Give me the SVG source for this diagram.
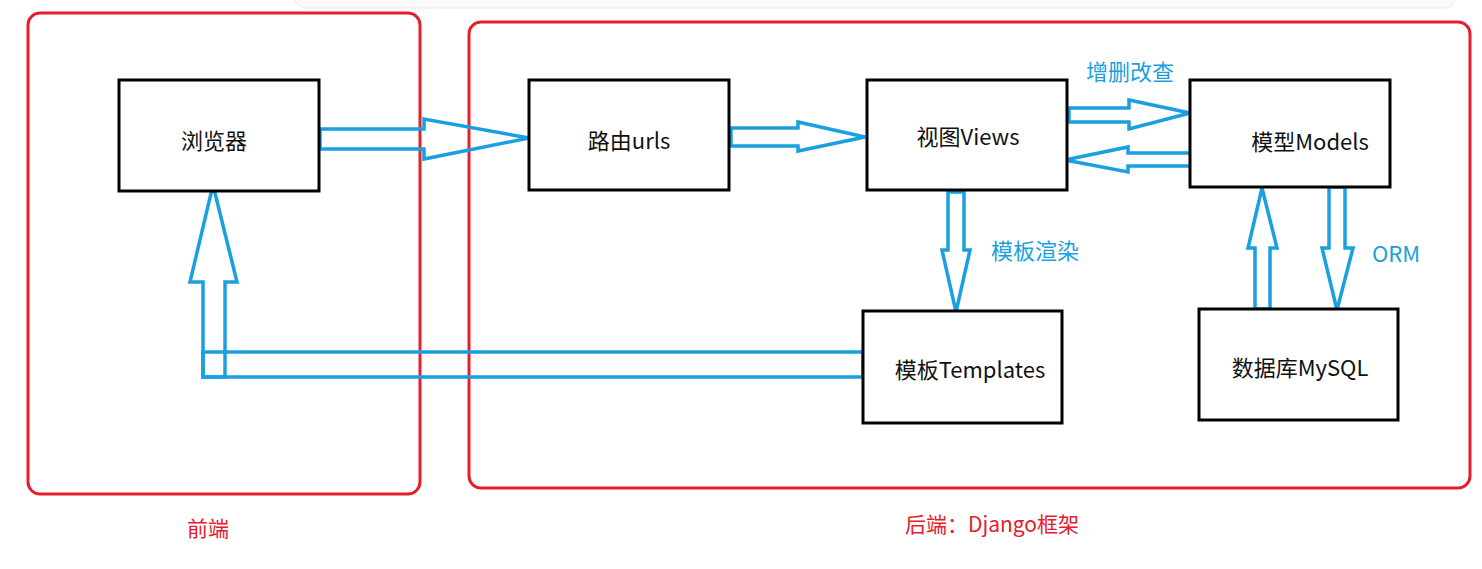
<svg xmlns="http://www.w3.org/2000/svg" width="1482" height="569" viewBox="0 0 1482 569">
<style>
.frame{fill:none;stroke:#e5202a;stroke-width:3}
.node{fill:#fff;stroke:#000;stroke-width:3}
.t{font-family:"Microsoft YaHei","Noto Sans CJK SC",sans-serif;font-size:22px;fill:#111;text-anchor:middle;dominant-baseline:central}
.b{fill:#1a9fe0}
.r{fill:#e5202a;font-size:21px}
.arr{fill:none;stroke:#1a9fe0;stroke-width:3.5;stroke-linejoin:miter}
</style>
<rect width="1482" height="569" fill="#fff"/>
<rect x="295" y="-12" width="1160" height="20" rx="10" fill="#fafafa" stroke="#ececec"/>
<rect class="frame" x="28" y="13" width="392" height="481" rx="12"/>
<rect class="frame" x="469" y="22" width="1001" height="466" rx="12"/>
<g id="connectors">
<polygon class="arr" points="320,129 424,129 424,119 529,138 424,159 424,149 320,149"/>
<polygon class="arr" points="731,128 798,128 798,122 865,137 798,151 798,146 731,146"/>
<polygon class="arr" points="1069,108 1129,108 1129,100 1190,113 1129,129 1129,122 1069,122"/>
<polygon class="arr" points="1193,153 1128,153 1128,147 1065,160 1128,172 1128,166 1193,166"/>
<polygon class="arr" points="1255,309 1255,248 1248,248 1262,188 1277,248 1270,248 1270,309"/>
<polygon class="arr" points="1329,187 1345,187 1345,248 1353,248 1337,310 1322,248 1329,248"/>
<polygon class="arr" points="948,192 964,192 964,250 970,250 956,312 942,250 948,250"/>
<polygon class="arr" points="203,377 203,282 190,282 213,185 237,282 225,282 225,377"/>
<rect class="arr" x="203" y="352" width="660" height="25"/>
</g>
<g id="browser"><rect class="node" x="119" y="80" width="200" height="111"/><text class="t" x="214" y="139">浏览器</text></g>
<g id="urls"><rect class="node" x="529" y="80" width="200" height="110"/><text class="t" x="629" y="139">路由urls</text></g>
<g id="views"><rect class="node" x="867" y="80" width="200" height="110"/><text class="t" x="968" y="135">视图Views</text></g>
<g id="models"><rect class="node" x="1190" y="80" width="200" height="107"/><text class="t" x="1310" y="140">模型Models</text></g>
<g id="templates"><rect class="node" x="863" y="311" width="199" height="112"/><text class="t" x="970" y="368">模板Templates</text></g>
<g id="mysql"><rect class="node" x="1199" y="309" width="199" height="111"/><text class="t" x="1300" y="366">数据库MySQL</text></g>
<text class="t b" x="1130" y="70">增删改查</text>
<text class="t b" x="1035" y="249">模板渲染</text>
<text class="t b" x="1396" y="252">ORM</text>
<text class="t r" x="208" y="527">前端</text>
<text class="t r" x="992" y="523">后端：Django框架</text>
</svg>
